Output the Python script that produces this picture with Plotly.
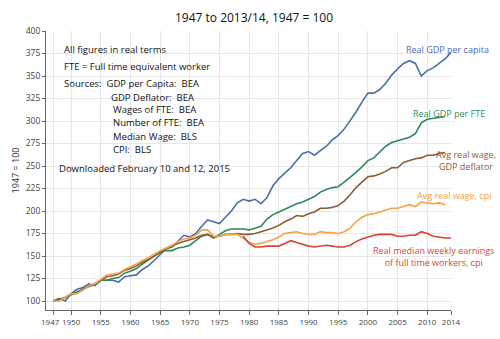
import plotly.graph_objects as go

# Index values, 1947 = 100
years = list(range(1947, 2015))

gdp_per_capita = [100, 103, 100, 108, 113, 115, 119, 117, 123, 123, 123, 121, 127, 128, 129,
                  135, 139, 145, 151, 158, 160, 166, 173, 171, 175, 183, 190, 188, 186, 193,
                  200, 209, 213, 211, 213, 208, 215, 228, 236, 242, 248, 256, 264, 266, 262,
                  267, 272, 279, 284, 291, 300, 310, 321, 331, 331, 335, 342, 351, 358, 364,
                  367, 364, 350, 356, 359, 364, 369, 376]

years_to_2013 = list(range(1947, 2014))

gdp_per_fte = [100, 102, 104, 108, 110, 113, 116, 118, 123, 123, 125, 126, 131, 133, 136,
               141, 146, 150, 154, 156, 156, 159, 160, 162, 167, 172, 174, 170, 174, 178,
               180, 180, 180, 179, 181, 183, 191, 196, 199, 202, 205, 208, 210, 213, 216,
               221, 224, 226, 227, 232, 237, 243, 249, 256, 259, 266, 272, 276, 278, 280,
               282, 286, 298, 302, 303, 304, 305]

wage_gdp_deflator = [100, 101, 104, 107, 109, 113, 117, 119, 123, 127, 128, 130, 134, 136, 139,
                     143, 146, 150, 154, 158, 161, 164, 166, 168, 170, 173, 174, 171, 172, 174,
                     174, 175, 174, 174, 175, 177, 179, 181, 184, 188, 191, 195, 194, 197, 199,
                     203, 203, 204, 206, 211, 218, 226, 232, 238, 239, 241, 244, 248, 248, 254,
                     256, 258, 259, 262, 262, 264, 265]

wage_cpi = [100, 100, 104, 108, 108, 112, 117, 119, 124, 129, 130, 131, 135, 138, 141,
            145, 148, 152, 156, 159, 162, 166, 169, 170, 173, 179, 179, 172, 172, 174,
            174, 174, 170, 165, 163, 164, 166, 168, 171, 175, 176, 177, 175, 174, 174,
            177, 176, 176, 175, 177, 181, 188, 193, 196, 197, 199, 201, 203, 203, 205,
            207, 205, 210, 209, 208, 209, 207]

years_median = list(range(1979, 2015))
median_weekly_cpi = [172, 164, 160, 160, 161, 161, 161, 164, 167, 165, 163, 161, 160, 161,
                     162, 161, 160, 160, 162, 166, 169, 171, 173, 174, 174, 174, 172, 172,
                     173, 173, 177, 175, 172, 171, 170, 170]

x_ticks = [1947, 1950, 1955, 1960, 1965, 1970, 1975, 1980, 1985, 1990, 1995, 2000, 2005, 2010, 2014]
y_ticks = list(range(100, 401, 25))

BLUE = "#4a6db0"
GREEN = "#2f8a5a"
BROWN = "#8e5c32"
ORANGE = "#f5a24a"
RED = "#d8443a"

FONT = "Open Sans"

series = [
    (years, gdp_per_capita, BLUE),
    (years_to_2013, gdp_per_fte, GREEN),
    (years_to_2013, wage_gdp_deflator, BROWN),
    (years_to_2013, wage_cpi, ORANGE),
    (years_median, median_weekly_cpi, RED),
]

fig = go.Figure()
for xs, ys, color in series:
    fig.add_trace(go.Scatter(x=xs, y=ys, mode="lines",
                             line=dict(color=color, width=1.6), showlegend=False,
                             hoverinfo="skip"))

# Plot area in pixels: left 46, right 451, top 31, bottom 314
L, R, T, B = 46, 451, 31, 314


def px(xp, yp):
    return (xp - L) / (R - L), (B - yp) / (B - T)


annotations = []


def note(text, xp, yp, color="#111111", size=9.5, align="left", xanchor="left"):
    ax, ay = px(xp, yp)
    annotations.append(dict(text=text, x=ax, y=ay, xref="paper", yref="paper",
                            xanchor=xanchor, yanchor="middle", showarrow=False,
                            align=align, font=dict(family=FONT, size=size, color=color)))


# Notes block
note("All figures in real terms", 62, 50)
note("FTE = Full time equivalent worker", 62, 67)
note("Sources:  GDP per Capita:  BEA", 62, 84)
note("GDP Deflator:  BEA", 109, 98)
note("Wages of FTE:  BEA", 111, 111)
note("Number of FTE:  BEA", 111, 124)
note("Median Wage:  BLS", 111, 138)
note("CPI:  BLS", 111, 151)
note("Downloaded February 10 and 12, 2015", 57, 170)

# Series labels
note("Real GDP per capita", 491, 50, BLUE, 9, xanchor="right")
note("Real GDP per FTE", 487, 115, GREEN, 9, xanchor="right")
note("Avg real wage,<br>GDP deflator", 466, 162, BROWN, 9, align="center", xanchor="center")
note("Avg real wage, cpi", 493, 198, ORANGE, 9, xanchor="right")
note("Real median weekly earnings<br>of full time workers, cpi", 433, 260, RED, 9,
     align="center", xanchor="center")

# The first year label sits a little left of its tick so it clears "1950"
x_tick_text = [""] + [str(t) for t in x_ticks[1:]]
note(str(x_ticks[0]), 50, 326, "#444444", 8, xanchor="center")

fig.update_layout(
    width=500, height=339,
    margin=dict(l=L, r=500 - R, t=T, b=339 - B),
    paper_bgcolor="white", plot_bgcolor="white",
    title=dict(text="1947 to 2013/14, 1947 = 100", x=0.508, xanchor="center",
               y=1 - 18 / 339, yanchor="middle",
               font=dict(family=FONT, size=12, color="#111111")),
    annotations=annotations,
    font=dict(family=FONT),
)

fig.update_xaxes(range=[1945.77, 2014], tickvals=x_ticks, ticktext=x_tick_text,
                 tickangle=0,
                 showgrid=True, gridcolor="#e6e6e6", gridwidth=1,
                 showline=True, linecolor="#666666", linewidth=1,
                 ticks="outside", ticklen=4, tickcolor="#666666",
                 tickfont=dict(family=FONT, size=8, color="#444444"), zeroline=False)
fig.update_yaxes(range=[90, 400], tickvals=y_ticks,
                 showgrid=True, gridcolor="#e6e6e6", gridwidth=1,
                 showline=True, linecolor="#666666", linewidth=1,
                 ticks="outside", ticklen=3, tickcolor="#666666",
                 tickfont=dict(family=FONT, size=8.5, color="#444444"), zeroline=False,
                 title=dict(text="1947 = 100", standoff=4,
                            font=dict(family=FONT, size=9, color="#333333")))

fig.write_html("out.html")
